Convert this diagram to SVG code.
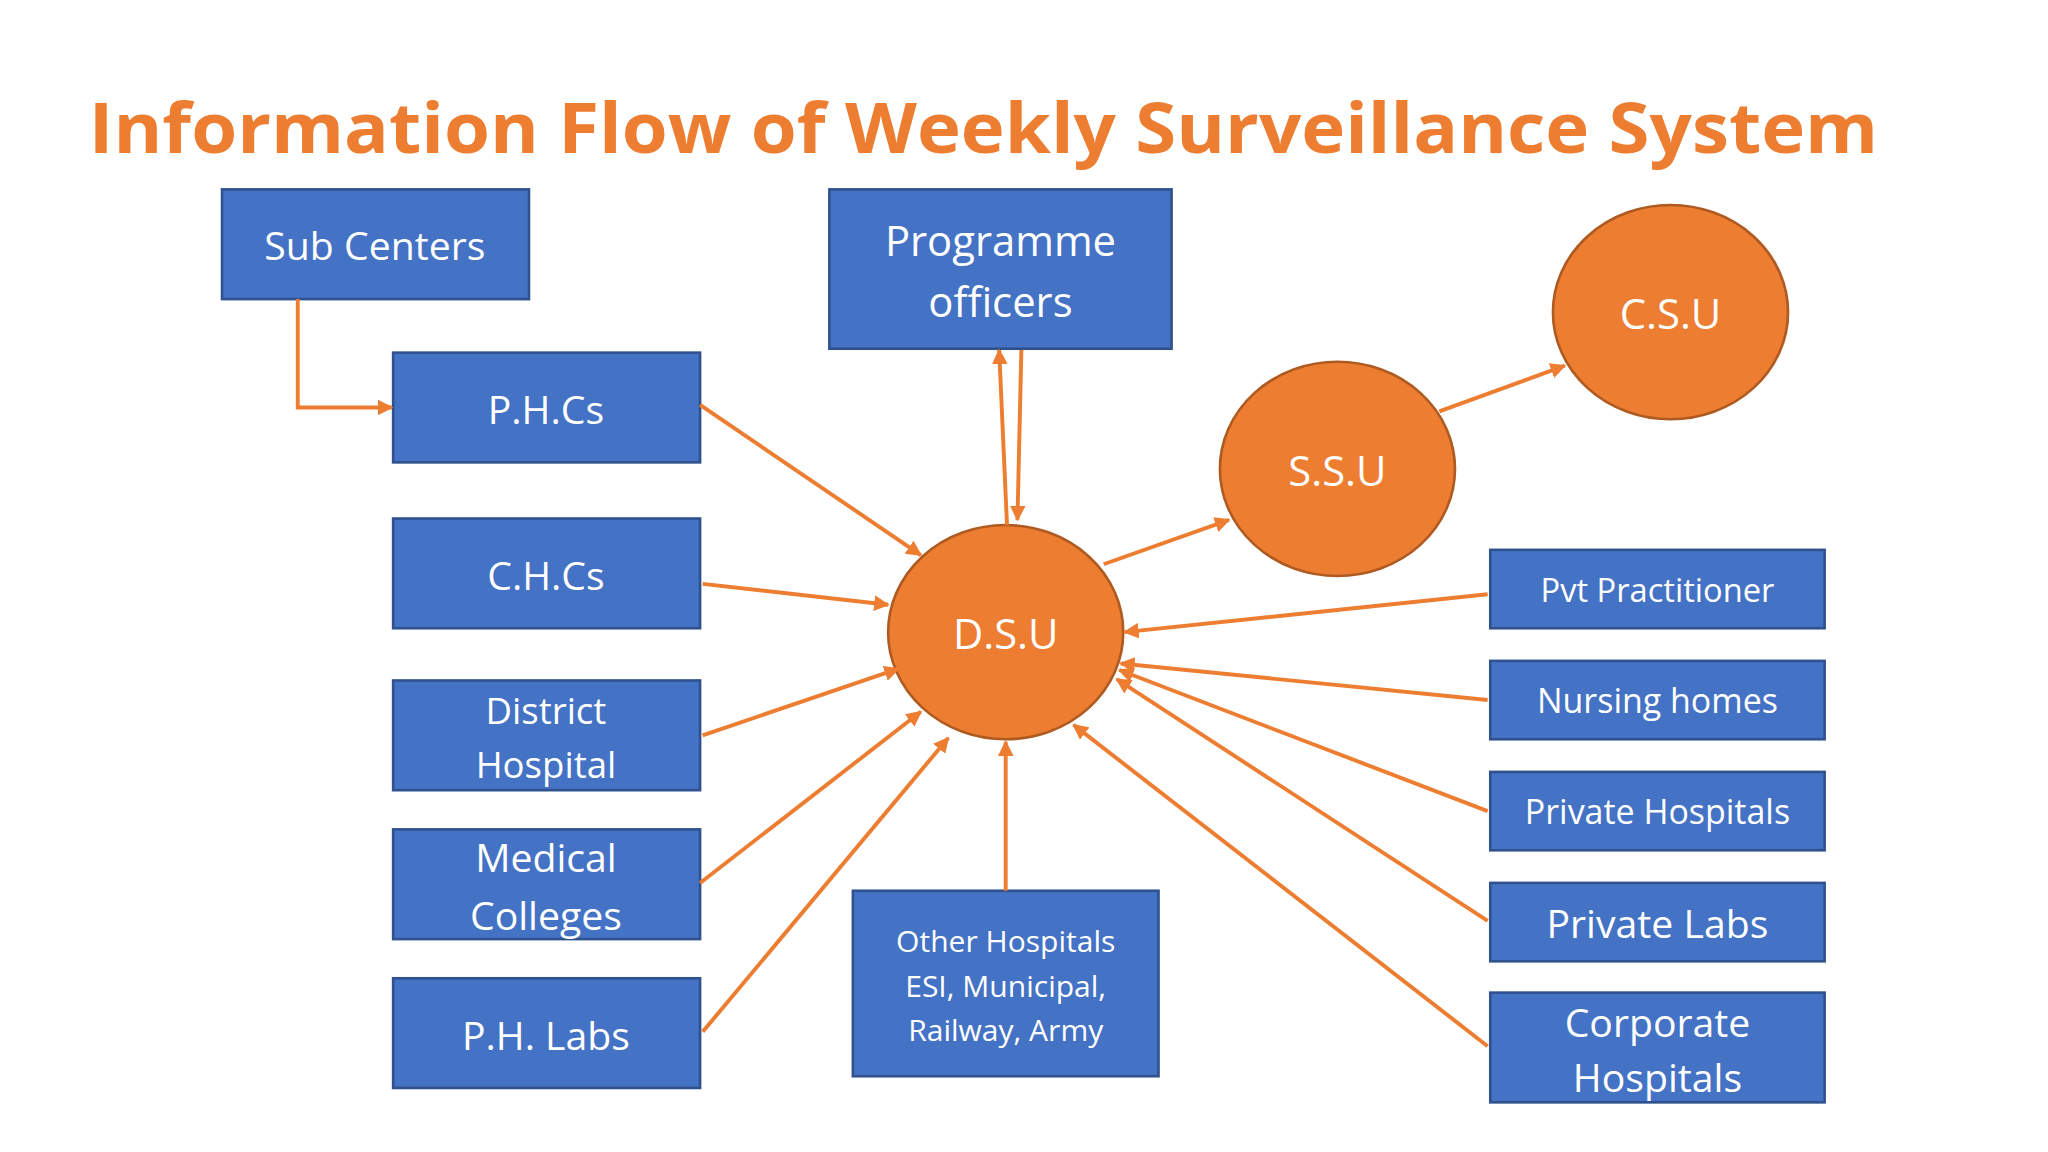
<svg xmlns="http://www.w3.org/2000/svg" width="2048" height="1152" viewBox="0 0 2048 1152">
<defs>
<marker id="ah" viewBox="0 0 10 10" refX="9" refY="5" markerWidth="4" markerHeight="4" orient="auto"><path d="M0,0L10,5L0,10z" fill="#ED7D31"/></marker>
<style>
.b{fill:#4472C4;stroke:#2F528F;stroke-width:2}
.c{fill:#ED7D31;stroke:#AE5A21;stroke-width:2}
.t{fill:#fff;font-family:"Open Sans",sans-serif;text-anchor:middle}
.l{fill:none;stroke:#ED7D31;stroke-width:3;marker-end:url(#ah)}
</style>
</defs>
<rect width="2048" height="1152" fill="#fff"/>
<g transform="scale(1.3061)">
<text x="68" y="117" font-family="Open Sans,sans-serif" font-weight="bold" font-size="54" fill="#ED7D31" textLength="1370" lengthAdjust="spacingAndGlyphs">Information Flow of Weekly Surveillance System</text>
<g id="sub"><rect class="b" x="170" y="145" width="235" height="84"/><text class="t" x="287" y="199" font-size="30">Sub Centers</text></g>
<g id="prog"><rect class="b" x="635" y="145" width="262" height="122"/><text class="t" x="766" y="196" font-size="32">Programme</text><text class="t" x="766" y="243" font-size="32">officers</text></g>
<g id="phc"><rect class="b" x="301" y="270" width="235" height="84"/><text class="t" x="418" y="325" font-size="30">P.H.Cs</text></g>
<g id="chc"><rect class="b" x="301" y="397" width="235" height="84"/><text class="t" x="418" y="452" font-size="30">C.H.Cs</text></g>
<g id="dh"><rect class="b" x="301" y="521" width="235" height="84"/><text class="t" x="418" y="554" font-size="28">District</text><text class="t" x="418" y="596" font-size="28">Hospital</text></g>
<g id="mc"><rect class="b" x="301" y="635" width="235" height="84"/><text class="t" x="418" y="668" font-size="30">Medical</text><text class="t" x="418" y="712" font-size="30">Colleges</text></g>
<g id="phl"><rect class="b" x="301" y="749" width="235" height="84"/><text class="t" x="418" y="804" font-size="30">P.H. Labs</text></g>
<g id="oth"><rect class="b" x="653" y="682" width="234" height="142"/><text class="t" x="770" y="729" font-size="23">Other Hospitals</text><text class="t" x="770" y="763" font-size="23">ESI, Municipal,</text><text class="t" x="770" y="797" font-size="23">Railway, Army</text></g>
<g id="pvt"><rect class="b" x="1141" y="421" width="256" height="60"/><text class="t" x="1269" y="461" font-size="25">Pvt Practitioner</text></g>
<g id="nh"><rect class="b" x="1141" y="506" width="256" height="60"/><text class="t" x="1269" y="546" font-size="26">Nursing homes</text></g>
<g id="ph"><rect class="b" x="1141" y="591" width="256" height="60"/><text class="t" x="1269" y="631" font-size="26">Private Hospitals</text></g>
<g id="pl"><rect class="b" x="1141" y="676" width="256" height="60"/><text class="t" x="1269" y="718" font-size="30">Private Labs</text></g>
<g id="ch"><rect class="b" x="1141" y="760" width="256" height="84"/><text class="t" x="1269" y="794" font-size="30">Corporate</text><text class="t" x="1269" y="836" font-size="30">Hospitals</text></g>
<g id="dsu"><ellipse class="c" cx="770" cy="484" rx="90" ry="82"/><text class="t" x="770" y="497" font-size="32">D.S.U</text></g>
<g id="ssu"><ellipse class="c" cx="1024" cy="359" rx="90" ry="82"/><text class="t" x="1024" y="372" font-size="32">S.S.U</text></g>
<g id="csu"><ellipse class="c" cx="1279" cy="239" rx="90" ry="82"/><text class="t" x="1279" y="252" font-size="32">C.S.U</text></g>
<g id="connectors">
<path class="l" d="M228,229V312H300"/>
<path class="l" d="M536,310L705,425"/>
<path class="l" d="M538,447L680,463"/>
<path class="l" d="M538,563L688,512"/>
<path class="l" d="M536,676L705,545"/>
<path class="l" d="M538,790L726,565"/>
<path class="l" d="M770,682V568"/>
<path class="l" d="M771,402L765,268"/>
<path class="l" d="M782,268L779,398"/>
<path class="l" d="M845,432L941,398"/>
<path class="l" d="M1102,315L1198,280"/>
<path class="l" d="M1139,455L861,484"/>
<path class="l" d="M1139,536L858,508"/>
<path class="l" d="M1139,621L857,513"/>
<path class="l" d="M1139,705L855,520"/>
<path class="l" d="M1139,801L822,555"/>
</g>
</g>
</svg>
